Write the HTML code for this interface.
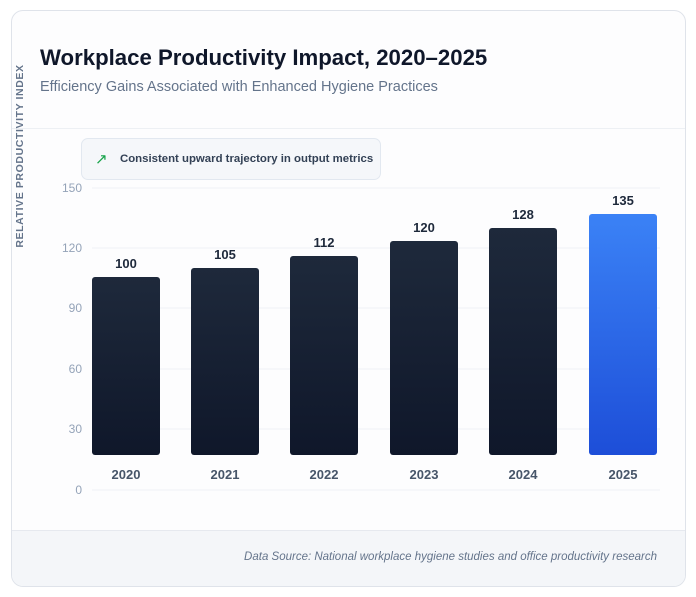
<!DOCTYPE html>
<html><head><style>
body{margin:0;background:#fff;width:696px;height:597px;position:relative;font-family:"Liberation Sans",sans-serif;overflow:hidden}
.card{position:absolute;left:11px;top:10px;width:673px;height:575px;border:1px solid #dfe3ea;border-radius:12px;background:#fdfdfe;overflow:hidden}
.foot{position:absolute;left:0;right:0;bottom:0;height:55px;background:#f4f6f9;border-top:1px solid #e6e9ef}
.abs{position:absolute;white-space:nowrap}
</style></head><body>
<div class="card">
<div class="abs" style="left:28px;top:34px;font-size:22.2px;font-weight:bold;color:#0f172a">Workplace Productivity Impact, 2020–2025</div>
<div class="abs" style="left:28px;top:68px;font-size:14.5px;color:#64748b">Efficiency Gains Associated with Enhanced Hygiene Practices</div>
<div style="position:absolute;left:0;right:0;top:117px;border-top:1px solid #edf0f4"></div>
<div class="foot"><div class="abs" style="right:28px;top:20px;font-size:11.5px;font-style:italic;color:#64748b">Data Source: National workplace hygiene studies and office productivity research</div></div>
</div>
<div class="abs" style="left:81px;top:138px;width:298px;height:40px;border:1px solid #e2e8f0;border-radius:7px;background:#f5f7fa"></div>
<div class="abs" style="left:95px;top:150px;font-size:15px;color:#16a34a">↗</div>
<div class="abs" style="left:120px;top:153px;font-size:11.4px;font-weight:bold;color:#334155">Consistent upward trajectory in output metrics</div>
<div class="abs" style="left:20px;top:156px;transform:translate(-50%,-50%) rotate(-90deg);font-size:10.5px;font-weight:bold;letter-spacing:0.6px;color:#64748b">RELATIVE PRODUCTIVITY INDEX</div>
<svg width="696" height="597" style="position:absolute;left:0;top:0" font-family="Liberation Sans, sans-serif">
<defs>
<linearGradient id="d" x1="0" y1="0" x2="0" y2="1"><stop offset="0" stop-color="#1e293b"/><stop offset="1" stop-color="#0f172a"/></linearGradient>
<linearGradient id="b" x1="0" y1="0" x2="0" y2="1"><stop offset="0" stop-color="#3b82f6"/><stop offset="1" stop-color="#1d4ed8"/></linearGradient>
</defs>
<g stroke="#eef1f5" stroke-width="1">
<line x1="92" x2="660" y1="188" y2="188"/><line x1="92" x2="660" y1="248" y2="248"/><line x1="92" x2="660" y1="308" y2="308"/><line x1="92" x2="660" y1="369" y2="369"/><line x1="92" x2="660" y1="429" y2="429"/><line x1="92" x2="660" y1="490" y2="490"/>
</g>
<g font-size="12" fill="#94a3b8" text-anchor="end">
<text x="82" y="192">150</text><text x="82" y="252">120</text><text x="82" y="312">90</text><text x="82" y="373">60</text><text x="82" y="433">30</text><text x="82" y="494">0</text>
</g>
<g>
<rect x="92" y="277" width="68" height="178" rx="3" fill="url(#d)"/>
<rect x="191" y="268" width="68" height="187" rx="3" fill="url(#d)"/>
<rect x="290" y="256" width="68" height="199" rx="3" fill="url(#d)"/>
<rect x="390" y="241" width="68" height="214" rx="3" fill="url(#d)"/>
<rect x="489" y="228" width="68" height="227" rx="3" fill="url(#d)"/>
<rect x="589" y="214" width="68" height="241" rx="3" fill="url(#b)"/>
</g>
<g font-size="13" font-weight="bold" fill="#1e293b" text-anchor="middle">
<text x="126" y="268">100</text><text x="225" y="259">105</text><text x="324" y="247">112</text><text x="424" y="232">120</text><text x="523" y="219">128</text><text x="623" y="205">135</text>
</g>
<g font-size="13" font-weight="bold" fill="#475569" text-anchor="middle">
<text x="126" y="479">2020</text><text x="225" y="479">2021</text><text x="324" y="479">2022</text><text x="424" y="479">2023</text><text x="523" y="479">2024</text><text x="623" y="479">2025</text>
</g>
</svg>
</body></html>
